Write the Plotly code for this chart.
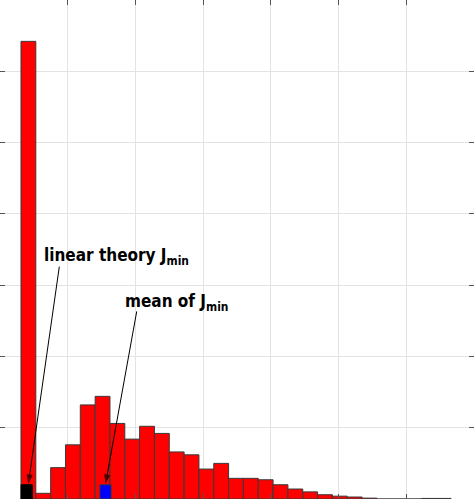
import plotly.graph_objects as go

# Histogram data (bin counts)
bin_start = 0.31
bin_width = 0.219
counts = [321, 4, 22, 38, 66, 72, 53, 42, 51, 46, 33, 31, 21, 25, 14.5, 14.5,
          13.5, 10, 7, 5, 3, 2, 1.4, 0.6, 0, 0, 0, 0.4, 0.4]

# Markers for linear theory J_min and mean of J_min
theory_x = [0.394]
theory_h = [10]
mean_x = [1.558]
mean_h = [10]
marker_width = 0.165

# Annotations
labels = ["linear theory J<sub>min</sub>", "mean of J<sub>min</sub>"]
label_x = [0.62, 1.81]
label_y = [170, 138]
arrow_tail_x = [0.876, 2.019]
arrow_tail_y = [163, 131.6]
arrow_head_x = [0.418, 1.558]
arrow_head_y = [10.5, 10.5]

centers = [bin_start + bin_width * (i + 0.5) for i in range(len(counts))]

fig = go.Figure()
fig.add_trace(go.Bar(x=centers, y=counts, width=bin_width,
                     marker=dict(color="#ff0000", line=dict(color="#3a3a3a", width=1)),
                     showlegend=False, hoverinfo="skip"))
fig.add_trace(go.Bar(x=theory_x, y=theory_h, width=marker_width,
                     marker=dict(color="#000000", line=dict(color="#000000", width=1)),
                     showlegend=False))
fig.add_trace(go.Bar(x=mean_x, y=mean_h, width=marker_width,
                     marker=dict(color="#0000ff", line=dict(color="#3a3a3a", width=1)),
                     showlegend=False))

font_family = "Liberation Sans Narrow, DejaVu Sans Condensed, Arial Narrow, sans-serif"
for t, lx, ly, tx, ty, hx, hy in zip(labels, label_x, label_y, arrow_tail_x,
                                      arrow_tail_y, arrow_head_x, arrow_head_y):
    fig.add_annotation(x=lx, y=ly, text=t, showarrow=False, xanchor="left",
                       yanchor="middle",
                       font=dict(family=font_family, size=17, color="black", weight="bold"))
    fig.add_trace(go.Scatter(x=[tx, hx], y=[ty, hy], mode="lines+markers",
                             line=dict(color="black", width=1),
                             marker=dict(symbol=["circle", "arrow"], size=[0, 10],
                                         angleref="previous", color="black",
                                         line=dict(width=0)),
                             showlegend=False, hoverinfo="skip", cliponaxis=False))

axis_style = dict(showgrid=True, gridcolor="#e3e3e3", gridwidth=1, zeroline=False,
                  showticklabels=False, ticks="inside", ticklen=5,
                  tickcolor="#555555", mirror="ticks", showline=False,
                  automargin=False)

fig.update_layout(
    width=474, height=499,
    margin=dict(l=0, r=0, t=0, b=0, pad=0, autoexpand=False),
    paper_bgcolor="white", plot_bgcolor="white",
    barmode="overlay",
    xaxis=dict(range=[0, 7], dtick=1, tick0=0, **axis_style),
    yaxis=dict(range=[0, 350], dtick=50, tick0=0, **axis_style),
)

fig.write_html("out.html", config={"displayModeBar": False},
               post_script="document.body.style.margin='0';document.body.style.padding='0';")
